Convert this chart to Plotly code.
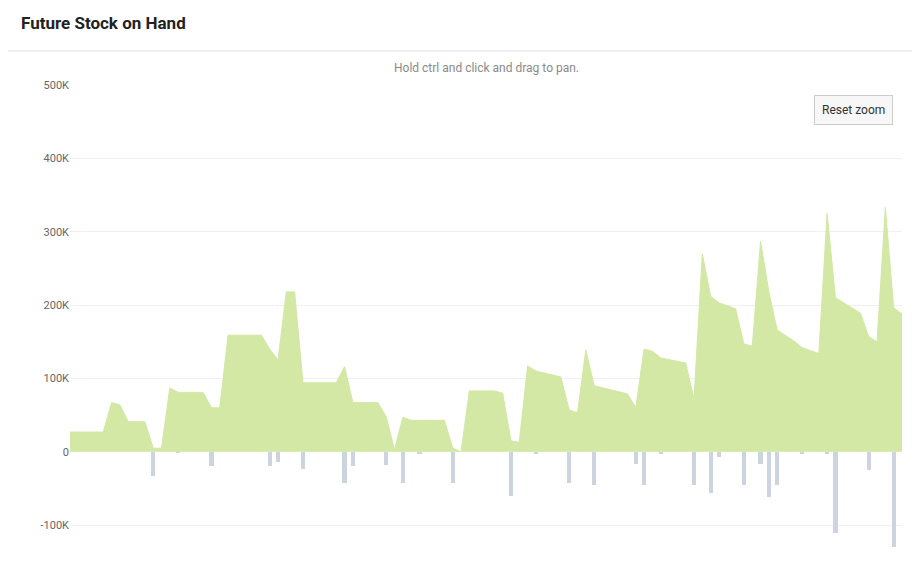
import plotly.graph_objects as go

area_x = [0,4,5,6,7,9,10,11,12,13,16,17,18,19,23,24,25,26,27,28,32,33,34,37,38,39,40,41,45,46,47,48,51,52,53,54,55,56,59,60,61,62,63,67,68,69,70,71,74,75,76,77,78,80,81,82,83,84,85,87,88,90,91,92,95,96,97,98,99,100]
area_y = [27,27,67,64,41,41,5,5,87,81,81,60,60,159,159,140,125,218,218,94,94,116,67,67,48,3,47,43,43,5,0,83,83,80,15,13,117,110,102,57,53,139,90,79,60,140,137,128,121,72,270,212,203,195,147,144,287,218,166,151,142,134,325,210,189,157,150,333,196,188]
bar_x = [10,13,17,24,25,28,33,34,38,40,42,46,53,56,60,63,68,69,71,75,77,78,81,83,84,85,88,91,92,96,99]
bar_y = [-33,-2,-20,-20,-14,-23,-42,-20,-18,-42,-3,-42,-60,-3,-42,-45,-17,-45,-3,-45,-56,-7,-45,-17,-62,-45,-3,-3,-111,-25,-130]
tick_vals = [-100,0,100,200,300,400,500]
tick_text = ["-100K","0","100K","200K","300K","400K","500K"]

fig = go.Figure()
fig.add_trace(go.Scatter(x=area_x, y=area_y, mode="lines", fill="tozeroy",
                         line=dict(color="#d2e8a4", width=1), fillcolor="#d2e8a4"))
fig.add_trace(go.Bar(x=bar_x, y=bar_y, width=0.5, marker=dict(color="#ccd4df", line=dict(width=0))))
fig.update_layout(
    width=920, height=567, showlegend=False, plot_bgcolor="white", paper_bgcolor="white",
    margin=dict(l=62, r=26, t=77, b=8),
    font=dict(family="Roboto", color="#666", size=11),
    xaxis=dict(range=[0, 100], showgrid=False, showticklabels=False, zeroline=False, fixedrange=True),
    yaxis=dict(range=[-157, 500], tickvals=tick_vals, ticktext=tick_text, gridcolor="#f0f0f0",
               zeroline=False, ticks="", ticklen=0, fixedrange=True),
    bargap=0,
    annotations=[
        dict(text="<b>Future Stock on Hand</b>", xref="paper", yref="paper", x=-0.0613, y=1.1286, xanchor="left",
             yanchor="middle", showarrow=False, font=dict(family="Roboto", size=17, color="#222")),
        dict(text="Hold ctrl and click and drag to pan.", xref="paper", yref="paper", x=0.5, y=1.035,
             xanchor="center", yanchor="middle", showarrow=False, font=dict(size=12, color="#8a8a8a")),
        dict(text="Reset zoom", xref="paper", yref="paper", x=0.989, y=0.948, xanchor="right",
             yanchor="middle", showarrow=False, font=dict(size=12, color="#333"),
             bgcolor="#f7f7f7", bordercolor="#cccccc", borderwidth=1, borderpad=7),
    ],
    shapes=[dict(type="line", xref="paper", yref="paper", x0=-0.0745, x1=1.05, y0=1.0705, y1=1.0705,
                 line=dict(color="#e0e0e0", width=1))],
)
fig.write_html("out.html", config={"displayModeBar": False})
